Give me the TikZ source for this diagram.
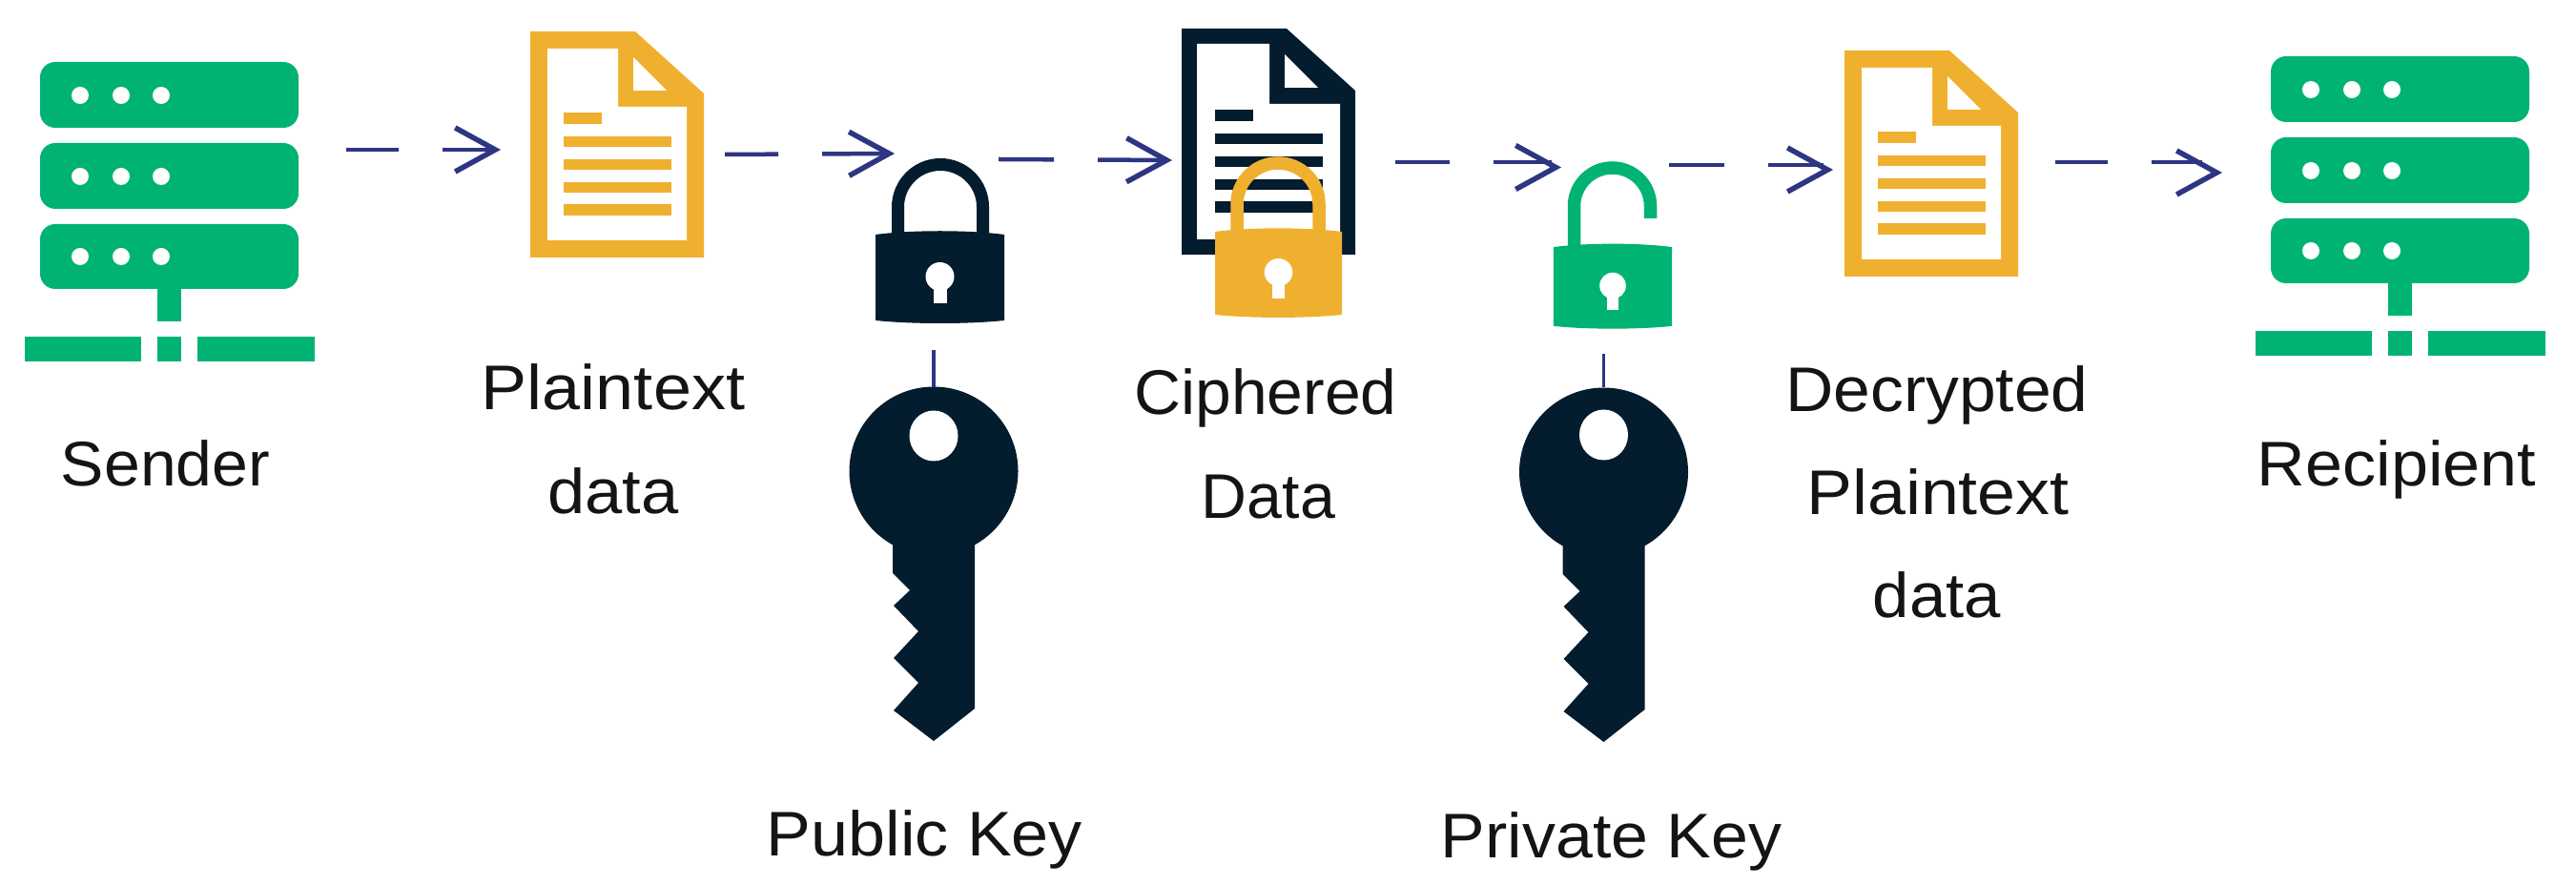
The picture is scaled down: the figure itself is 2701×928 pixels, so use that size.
\documentclass[tikz,border=0pt]{standalone}
\usepackage{fontspec}
\setmainfont{Liberation Sans}
\usetikzlibrary{arrows.meta}
\definecolor{srvgreen}{HTML}{00B373}
\definecolor{docgold}{HTML}{F0B02F}
\definecolor{navy}{HTML}{031C2E}
\definecolor{flowblue}{HTML}{2E3582}
\definecolor{txtcol}{HTML}{141414}
\newcommand\fitw[2]{\resizebox{#1cm}{\height}{#2}}
\newcommand\ServerIcon[2]{%
  \begin{scope}[shift={(#1,#2)}]
    \foreach \t/\b/\d in {65/134/100,150/219/185,235/303/269}{
      \fill[srvgreen,rounded corners=.16cm] (42,\t) rectangle (313,\b);
      \foreach \c in {84,127,169}{\fill[white] (\c,\d) circle[radius=9];}
    }
    \fill[srvgreen] (165,303) rectangle (190,337);
    \fill[srvgreen] (26,353) rectangle (148,379);
    \fill[srvgreen] (165,353) rectangle (190,379);
    \fill[srvgreen] (207,353) rectangle (330,379);
  \end{scope}}
% colour, left, top, border
\newcommand\DocIcon[4]{%
  \begin{scope}[shift={(#2,#3)}]
    \fill[#1] (0,0) -- (110,0) -- (182,65) -- (182,237) -- (0,237) -- cycle;
    \fill[white] (#4,#4) -- (92,#4) -- (92,79) -- ({182-#4},79) -- ({182-#4},{237-#4}) -- (#4,{237-#4}) -- cycle;
    \fill[white] (108,27) -- (143,62) -- (108,62) -- cycle;
  \end{scope}}
\newcommand\DocLines[3]{%
  \begin{scope}[shift={(#2,#3)}]
    \fill[#1] (35,85) rectangle (75,97);
    \foreach \t/\b in {110/121,134/145,158/169,181/193}{\fill[#1] (35,\t) rectangle (148,\b);}
  \end{scope}}
% colour, cx, cy, xscale, yscale
\newcommand\LockBody[5]{%
  \begin{scope}[shift={(#2,#3)},xscale=#4,yscale=#5]
    \fill[#1] (-67.5,-45) .. controls (-30,-50) and (30,-50) .. (67.5,-45) -- (67.5,45) .. controls (30,49) and (-30,49) .. (-67.5,45) -- cycle;
    \fill[white] (0,-1) circle[radius=15];
    \fill[white] (-7,5) rectangle (7,27);
  \end{scope}}
\newcommand\KeyIcon[3]{%
  \begin{scope}[shift={(#1,#2)}]
    \fill[navy] (0,0) ellipse[x radius=88.5,y radius=88.5];
    \fill[navy] (-43,70) -- (-43,107) -- (-25,125) -- (-42,141) -- (-16,168) -- (-42,196) -- (-16,222) -- (-42,251) -- (0,283) -- (43,249) -- (43,70) -- cycle;
    \fill[white] (0,#3) ellipse[x radius=25.5,y radius=26.5];
  \end{scope}}
\tikzset{
  iconbox/.style={inner sep=0pt,outer sep=0pt},
  flow/.style={draw=flowblue,line width=.045cm,dash pattern=on #1cm off .46cm on 9cm,-{Straight Barb[length=.42cm,width=.46cm,line width=.055cm]}},
  shaft/.style={draw=flowblue,line width=.045cm,dash pattern=on #1cm off .46cm on 9cm},
  headonly/.style={draw=flowblue,line width=.045cm,-{Straight Barb[length=.42cm,width=.46cm,line width=.055cm]}},
  link/.style={draw=flowblue,line width=.035cm},
  txt/.style={anchor=base,inner sep=0pt,text=txtcol,font=\fontsize{18.8}{22}\selectfont},
}
\begin{document}
\begin{tikzpicture}[x=.01cm,y=-.01cm]
\useasboundingbox (0,0) rectangle (2701,928);
\fill[white] (0,0) rectangle (2701,928);
% icon anchors
\node[iconbox,minimum width=3.04cm,minimum height=3.14cm] (sender) at (178,222) {};
\node[iconbox,minimum width=1.82cm,minimum height=2.37cm] (plain) at (647,151.5) {};
\node[iconbox,minimum width=1.35cm,minimum height=1.74cm] (lockA) at (985.5,253) {};
\node[iconbox,minimum width=1.77cm,minimum height=3.71cm] (keyA) at (979,591.5) {};
\node[iconbox,minimum width=1.82cm,minimum height=2.37cm] (cipher) at (1330,148.5) {};
\node[iconbox,minimum width=1.24cm,minimum height=1.78cm] (lockB) at (1691,258) {};
\node[iconbox,minimum width=1.77cm,minimum height=3.71cm] (keyB) at (1681.5,591.5) {};
\node[iconbox,minimum width=1.82cm,minimum height=2.37cm] (decr) at (2025,171.5) {};
\node[iconbox,minimum width=3.03cm,minimum height=3.14cm] (recip) at (2517,216) {};
% servers
\ServerIcon{0}{0}
\ServerIcon{2339}{-6}
% documents
\DocIcon{docgold}{556}{33}{18}\DocLines{docgold}{556}{33}
\DocIcon{docgold}{1934}{53}{18}\DocLines{docgold}{1934}{53}
\DocIcon{navy}{1239}{30}{16}\DocLines{navy}{1239}{30}
% dark lock
\draw[navy,line width=.13cm] (941.5,246) -- (941.5,217) arc[start angle=180,end angle=360,radius=44.5] -- (1030.5,246);
\LockBody{navy}{985.5}{291}{1}{1}
% gold lock over document
\draw[docgold,line width=.135cm] (1297,243) -- (1297,214) arc[start angle=180,end angle=360,radius=43] -- (1383,243);
\LockBody{docgold}{1340.5}{286.5}{.985}{.967}
% open green lock
\draw[srvgreen,line width=.135cm] (1650.5,258) -- (1650.5,216) arc[start angle=180,end angle=360,radius=40] -- (1730.5,229);
\LockBody{srvgreen}{1691}{300.5}{.92}{.92}
% keys
\KeyIcon{979}{494}{-37}
\KeyIcon{1681.5}{495}{-39}
% lock to key
\draw[link,shorten <=.27cm] (keyA.north |- lockA.south) -- (keyA.north);
\draw[link,shorten <=.24cm] (keyB.north |- lockB.south) -- (keyB.north);
% flow arrows
\coordinate (f1a) at (363,157); \coordinate (f1c) at (525,157);
\coordinate (f2a) at (760,162); \coordinate (f2c) at (938,161);
\coordinate (f3a) at (1047,167); \coordinate (f3c) at (1229,168);
\coordinate (f4a) at (1463,170); \coordinate (f4b) at (1627,170); \coordinate (f4d) at (1627,175.5); \coordinate (f4c) at (1637,175.5);
\coordinate (f5a) at (1750,173); \coordinate (f5b) at (1912,173); \coordinate (f5d) at (1912,178); \coordinate (f5c) at (1922,178);
\coordinate (f6a) at (2155,170); \coordinate (f6b) at (2309,170); \coordinate (f6d) at (2320,181); \coordinate (f6c) at (2330,181);
\draw[flow=.55] (f1a) -- (f1c);
\draw[flow=.56] (f2a) -- (f2c);
\draw[flow=.58] (f3a) -- (f3c);
\draw[shaft=.57] (f4a) -- (f4b);
\draw[headonly] (f4d) -- (f4c);
\draw[shaft=.58] (f5a) -- (f5b);
\draw[headonly] (f5d) -- (f5c);
\draw[shaft=.55] (f6a) -- (f6b);
\draw[headonly] (f6d) -- (f6c);
% labels
\node[txt] (tsender) at (173.5,510) {\fitw{2.19}{Sender}};
\node[txt] (tplain) at (643,430) {\fitw{2.76}{Plaintext}};
\node[txt] (tplaind) at (643,539) {\fitw{1.37}{data}};
\node[txt] (tpub) at (969.5,897) {\fitw{3.31}{Public Key}};
\node[txt] (tciph) at (1327,435) {\fitw{2.75}{Ciphered}};
\node[txt] (tciphd) at (1330,543) {\fitw{1.40}{Data}};
\node[txt] (tpriv) at (1689.5,899) {\fitw{3.57}{Private Key}};
\node[txt] (tdecr) at (2031,432) {\fitw{3.17}{Decrypted}};
\node[txt] (tdecrp) at (2032,540) {\fitw{2.75}{Plaintext}};
\node[txt] (tdecrd) at (2031,647) {\fitw{1.34}{data}};
\node[txt] (trecip) at (2513,510) {\fitw{2.92}{Recipient}};
\end{tikzpicture}
\end{document}
